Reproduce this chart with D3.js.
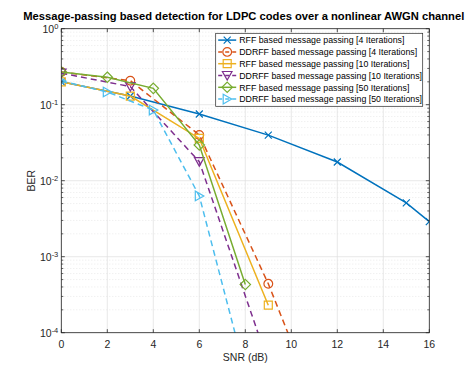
<!DOCTYPE html>
<html><head><meta charset="utf-8">
<script src="https://cdn.jsdelivr.net/npm/d3@7"></script>
<style>body{margin:0;background:#fff}svg{display:block}text{font-family:"Liberation Sans",Arial,sans-serif}</style>
</head><body><svg id="c" width="474" height="374"></svg>
<script>
const titleText = "Message-passing based detection for LDPC codes over a nonlinear AWGN channel";
const xLabel = "SNR (dB)";
const yLabel = "BER";
const xTicks = [0,2,4,6,8,10,12,14,16];
const yDecades = [0,-1,-2,-3,-4];
const seriesNames = [
  "RFF based message passing [4 Iterations]",
  "DDRFF based message passing [4 Iterations]",
  "RFF based message passing [10 Iterations]",
  "DDRFF based message passing [10 Iterations]",
  "RFF based message passing [50 Iterations]",
  "DDRFF based message passing [50 Iterations]"
];
const rff4Snr = [0,3,6,9,12,15,16];
const rff4Ber = [0.20,0.13,0.0755,0.0398,0.0176,0.0051,0.0029];
const ddrff4Snr = [0,3,6,9,10];
const ddrff4Ber = [0.27,0.207,0.040,0.00044,0.000077];
const rff10Snr = [0,3,6,9];
const rff10Ber = [0.20,0.13,0.036,0.00023];
const ddrff10Snr = [0,3,6,9];
const ddrff10Ber = [0.26,0.173,0.0178,0.00004];
const rff50Snr = [0,2,4,6,8];
const rff50Ber = [0.27,0.23,0.164,0.0295,0.00043];
const ddrff50Snr = [0,2,4,6,8];
const ddrff50Ber = [0.205,0.147,0.085,0.0063,0.00003];

const colors = ["#0072BD","#D95319","#EDB120","#7E2F8E","#77AC30","#4DBEEE"];
const markers = ["x","circle","square","triDown","diamond","triRight"];
const dashed = [false,true,false,true,false,true];
const series = [
  {snr:rff4Snr, ber:rff4Ber},{snr:ddrff4Snr, ber:ddrff4Ber},
  {snr:rff10Snr, ber:rff10Ber},{snr:ddrff10Snr, ber:ddrff10Ber},
  {snr:rff50Snr, ber:rff50Ber},{snr:ddrff50Snr, ber:ddrff50Ber}
].map((s,i)=>({name:seriesNames[i], color:colors[i], marker:markers[i], dashed:dashed[i],
  pts:s.snr.map((x,j)=>({x, y:s.ber[j]}))}));

const svg = d3.select("#c");
const L=61.3, R=429.3, T=28.7, B=332.7;
const x = d3.scaleLinear().domain([0,16]).range([L,R]);
const y = d3.scaleLog().domain([1e-4,1]).range([B,T]);
const axCol = "#262626";

// grid
const g = svg.append("g");
const minorVals = [];
for (let d=-4; d<0; d++) for (let k=2;k<=9;k++) minorVals.push(k*Math.pow(10,d));
g.selectAll(".mg").data(minorVals).join("line")
  .attr("x1",L).attr("x2",R).attr("y1",d=>y(d)).attr("y2",d=>y(d))
  .attr("stroke","#dcdcdc").attr("stroke-width",0.6).attr("stroke-dasharray","1,2");
g.selectAll(".gy").data(yDecades.map(d=>Math.pow(10,d))).join("line")
  .attr("x1",L).attr("x2",R).attr("y1",d=>y(d)).attr("y2",d=>y(d))
  .attr("stroke","#e0e0e0").attr("stroke-width",0.7);
g.selectAll(".gx").data(xTicks).join("line")
  .attr("x1",d=>x(d)).attr("x2",d=>x(d)).attr("y1",T).attr("y2",B)
  .attr("stroke","#e0e0e0").attr("stroke-width",0.7);

// clip
svg.append("clipPath").attr("id","clip").append("rect").attr("x",L).attr("y",T).attr("width",R-L).attr("height",B-T);

const plot = svg.append("g");
const line = d3.line().x(d=>x(d.x)).y(d=>y(d.y));
function markerPath(type){
  switch(type){
    case "x": return "M-3.5,-3.5L3.5,3.5M-3.5,3.5L3.5,-3.5";
    case "circle": return d3.symbol(d3.symbolCircle, 60)();
    case "square": return "M-4,-4H4V4H-4Z";
    case "diamond": return "M0,-5.2L5.2,0L0,5.2L-5.2,0Z";
    case "triDown": return "M-4.8,-4L4.8,-4L0,4.5Z";
    case "triRight": return "M-4,-4.8L-4,4.8L4.5,0Z";
  }
}
series.forEach(s=>{
  plot.append("path").datum(s.pts).attr("d",line).attr("clip-path","url(#clip)")
    .attr("fill","none").attr("stroke",s.color).attr("stroke-width",1.5)
    .attr("stroke-dasharray", s.dashed ? "6,4" : null);
  plot.append("g").attr("clip-path","url(#clip)").selectAll("path").data(s.pts).join("path")
    .attr("transform",d=>`translate(${x(d.x)},${y(d.y)})`)
    .attr("d",markerPath(s.marker)).attr("fill","none").attr("stroke",s.color).attr("stroke-width",1.2);
});

// axes box
const ax = svg.append("g");
ax.append("rect").attr("x",L).attr("y",T).attr("width",R-L).attr("height",B-T)
  .attr("fill","none").attr("stroke",axCol).attr("stroke-width",0.8);
xTicks.forEach(t=>{
  ax.append("line").attr("x1",x(t)).attr("x2",x(t)).attr("y1",B).attr("y2",B-3.5).attr("stroke",axCol).attr("stroke-width",0.8);
  ax.append("line").attr("x1",x(t)).attr("x2",x(t)).attr("y1",T).attr("y2",T+3.5).attr("stroke",axCol).attr("stroke-width",0.8);
});
yDecades.forEach(d=>{
  const v=Math.pow(10,d);
  ax.append("line").attr("x1",L).attr("x2",L+3.5).attr("y1",y(v)).attr("y2",y(v)).attr("stroke",axCol).attr("stroke-width",0.8);
  ax.append("line").attr("x1",R).attr("x2",R-3.5).attr("y1",y(v)).attr("y2",y(v)).attr("stroke",axCol).attr("stroke-width",0.8);
});
minorVals.forEach(v=>{
  ax.append("line").attr("x1",L).attr("x2",L+2).attr("y1",y(v)).attr("y2",y(v)).attr("stroke",axCol).attr("stroke-width",0.7);
  ax.append("line").attr("x1",R).attr("x2",R-2).attr("y1",y(v)).attr("y2",y(v)).attr("stroke",axCol).attr("stroke-width",0.7);
});
// x tick labels
ax.selectAll(".xl").data(xTicks).join("text")
  .attr("x",d=>x(d)).attr("y",B+15).attr("text-anchor","middle")
  .attr("font-size",10.5).attr("fill",axCol).text(d=>d);
// y tick labels
yDecades.forEach(d=>{
  const t = ax.append("text").attr("x",L-3).attr("y",y(Math.pow(10,d))+4).attr("text-anchor","end")
    .attr("font-size",10.5).attr("fill",axCol);
  t.append("tspan").text("10");
  t.append("tspan").attr("dy",-4).attr("font-size",7.5).text(d);
});
// axis labels
svg.append("text").attr("x",(L+R)/2).attr("y",361).attr("text-anchor","middle")
  .attr("font-size",10.5).attr("fill",axCol).text(xLabel);
svg.append("text").attr("transform",`translate(35,${(T+B)/2}) rotate(-90)`).attr("text-anchor","middle")
  .attr("font-size",10.5).attr("fill",axCol).text(yLabel);
// title
svg.append("text").attr("x",(L+R)/2 - 1.5).attr("y",19.5).attr("text-anchor","middle")
  .attr("font-size",11.2).attr("font-weight","bold").attr("fill","#000").text(titleText);

// legend
const lg = svg.append("g");
const lgX=215.7, lgY=33.3, lgW=207, lgH=73, rowH=11.8;
lg.append("rect").attr("x",lgX).attr("y",lgY).attr("width",lgW).attr("height",lgH)
  .attr("fill","#fff").attr("stroke",axCol).attr("stroke-width",0.7);
series.forEach((s,i)=>{
  const cy = lgY+6.8+i*rowH;
  lg.append("line").attr("x1",lgX+2.5).attr("x2",lgX+20.5).attr("y1",cy).attr("y2",cy)
    .attr("stroke",s.color).attr("stroke-width",1.5).attr("stroke-dasharray",s.dashed?"4,3":null);
  lg.append("path").attr("transform",`translate(${lgX+11.5},${cy})`).attr("d",markerPath(s.marker))
    .attr("fill","none").attr("stroke",s.color).attr("stroke-width",1.2);
  lg.append("text").attr("x",lgX+23.5).attr("y",cy+3.2).attr("font-size",8.8).attr("fill","#000").text(s.name);
});
</script></body></html>
